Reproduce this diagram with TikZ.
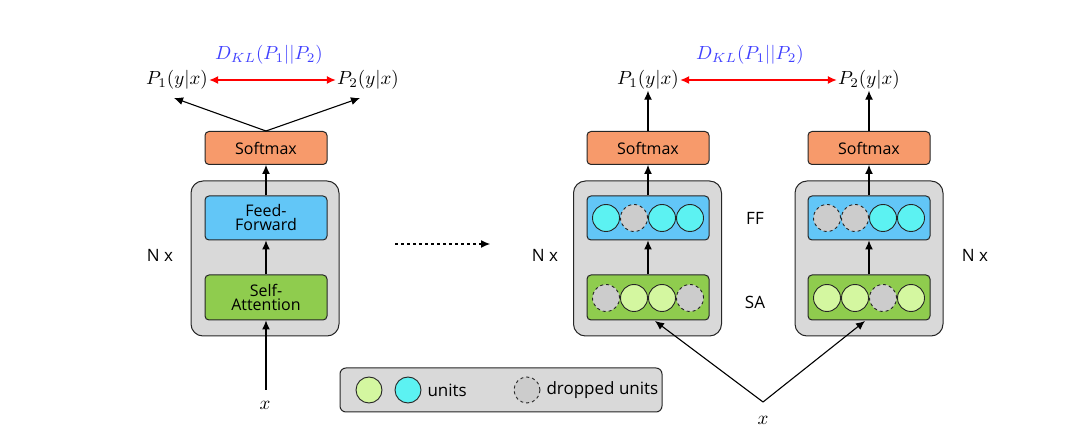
\documentclass[tikz,border=0pt]{standalone}
\usepackage{fontspec}
\setmainfont{Open Sans}
\usepackage{graphicx}
\usetikzlibrary{arrows.meta}
\definecolor{smc}{HTML}{F79A6B}
\definecolor{ffc}{HTML}{62C6F7}
\definecolor{sac}{HTML}{8FCC4E}
\definecolor{cuc}{HTML}{5CF2F2}
\definecolor{guc}{HTML}{D4F7A0}
\newcommand{\mymath}[1]{\scalebox{1.9}{$#1$}}
\begin{document}
\begin{tikzpicture}[x=1pt,y=-1pt,
 box/.style={draw=black!85,line width=1pt,rounded corners=4pt,minimum width=122pt,font=\fontsize{16}{18}\selectfont,align=center},
 sm/.style={box,fill=smc,minimum height=33pt},
 ff/.style={box,fill=ffc,minimum height=44pt},
 sa/.style={box,fill=sac,minimum height=45pt},
 cont/.style={draw=black!85,line width=1pt,rounded corners=12pt,fill=black!15,minimum width=148pt,minimum height=155pt},
 cu/.style={circle,draw=black!85,line width=0.9pt,fill=cuc,minimum size=27pt,inner sep=0},
 gu/.style={circle,draw=black!85,line width=0.9pt,fill=guc,minimum size=27pt,inner sep=0},
 du/.style={circle,draw=black!85,dashed,line width=0.9pt,fill=black!20,minimum size=27pt,inner sep=0},
 ar/.style={-{Latex[length=9pt,width=8pt]},line width=1.1pt},
 red2/.style={{Latex[length=9pt,width=8pt]}-{Latex[length=9pt,width=8pt]},red,line width=1.8pt},
 lbl/.style={font=\fontsize{17}{19}\selectfont},
 mt/.style={inner sep=1pt}]
\useasboundingbox (0,0) rectangle (1080,446);
% left
\node[cont] (c1) at (265,258.5) {};
\node[sm] (s1) at (266,148) {Softmax};
\node[ff] (f1) at (266,218) {Feed-\\[-4pt]Forward};
\node[sa] (a1) at (266,297.5) {Self-\\[-4pt]Attention};
\node[mt] (x1) at (265,405) {\mymath{x}};
\node[mt] (p11) at (177,80) {\mymath{P_1(y|x)}};
\node[mt] (p12) at (368,80) {\mymath{P_2(y|x)}};
\node[mt,text=blue!75!white] (d1) at (269,55) {\mymath{D_{KL}(P_1||P_2)}};
\node[lbl] (n1) at (160,255) {N x};
\coordinate (xs1) at (266,390);
\draw[ar] (xs1) -- (a1.south);
\draw[ar] (a1.north) -- (f1.south);
\draw[ar] (f1.north) -- (s1.south);
\coordinate (t1) at (266,131);
\coordinate (e11) at (174,98); \coordinate (e12) at (360,98);
\draw[ar] (t1) -- (e11);
\draw[ar] (t1) -- (e12);
\draw[red2] (p11.east) -- (p12.west);
% dashed
\coordinate (da) at (395,244); \coordinate (db) at (490,244);
\draw[ar,dashed] (da) -- (db);
% middle
\node[cont] (c2) at (647.5,258.5) {};
\node[sm] (s2) at (648,148) {Softmax};
\node[ff] (f2) at (648,218) {};
\node[sa] (a2) at (648,297.5) {};
\node[cu] at (606,218) {};\node[du] at (634,218) {};\node[cu] at (662,218) {};\node[cu] at (690,218) {};
\node[du] at (606,298) {};\node[gu] at (634,298) {};\node[gu] at (662,298) {};\node[du] at (690,298) {};
\node[lbl] at (755,218) {FF};
\node[lbl] at (755,302) {SA};
\node[lbl] at (545,255) {N x};
% right
\node[cont] (c3) at (869,258.5) {};
\node[sm] (s3) at (869,148) {Softmax};
\node[ff] (f3) at (869,218) {};
\node[sa] (a3) at (869,297.5) {};
\node[du] at (827,218) {};\node[du] at (855,218) {};\node[cu] at (883,218) {};\node[cu] at (911,218) {};
\node[gu] at (827,298) {};\node[gu] at (855,298) {};\node[du] at (883,298) {};\node[gu] at (911,298) {};
\node[lbl] at (975,255) {N x};
\node[mt] (p21) at (648,80) {\mymath{P_1(y|x)}};
\node[mt] (p22) at (869,80) {\mymath{P_2(y|x)}};
\node[mt,text=blue!75!white] at (750,55) {\mymath{D_{KL}(P_1||P_2)}};
\draw[red2] (p21.east) -- (p22.west);
\foreach \a/\f/\s/\p in {a2/f2/s2/p21,a3/f3/s3/p22}{
 \draw[ar] (\a.north) -- (\f.south);
 \draw[ar] (\f.north) -- (\s.south);
 \draw[ar] (\s.north) -- (\s.north |- \p.south);}
\node[mt] (x2) at (763,420) {\mymath{x}};
\coordinate (xb) at (763,402);
\coordinate (ta) at (655,321); \coordinate (tb) at (865,321);
\draw[ar] (xb) -- (ta);
\draw[ar] (xb) -- (tb);
% legend
\node[draw=black!85,line width=1pt,rounded corners=6pt,fill=black!15,minimum width=322pt,minimum height=44pt] (lg) at (501,390) {};
\node[gu,minimum size=26pt] at (369,390) {};
\node[cu,minimum size=26pt] at (408,390) {};
\node[lbl,anchor=west] at (424,390) {units};
\node[du,fill=black!20,minimum size=26pt] at (527,390) {};
\node[lbl,anchor=west] at (543,390) {dropped units};
\end{tikzpicture}
\end{document}
